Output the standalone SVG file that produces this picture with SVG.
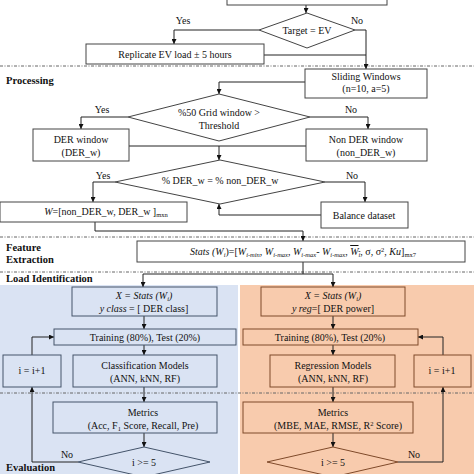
<svg xmlns="http://www.w3.org/2000/svg" width="474" height="474" viewBox="0 0 474 474">
<defs>
<marker id="ah" viewBox="0 0 10 10" refX="10" refY="5" markerWidth="5" markerHeight="5" orient="auto" markerUnits="userSpaceOnUse"><path d="M0,0 L10,5 L0,10 z" fill="#111"/></marker>
<style>
.t{font-family:"Liberation Serif","Times New Roman",serif;font-size:10px;fill:#111;text-anchor:middle}
.i{font-style:italic}
.lb{font-family:"Liberation Serif","Times New Roman",serif;font-size:10.5px;font-weight:bold;fill:#111}
.b{fill:#fff;stroke:#444;stroke-width:1}
.bb{fill:#dae3f3;stroke:#44546a;stroke-width:1}
.ob{fill:#f8cbad;stroke:#7f4a2a;stroke-width:1}
.c{fill:none;stroke:#222;stroke-width:1}
.a{marker-end:url(#ah)}
.sep{stroke:#666;stroke-width:1;stroke-dasharray:3,1.5,1,1.5}
.s{font-size:6.5px}
</style>
</defs>
<rect width="474" height="474" fill="#fff"/>
<rect x="0" y="285" width="238" height="189" fill="#dae3f3"/>
<rect x="240" y="285" width="234" height="189" fill="#f8cbad"/>

<g id="separators">
<line class="sep" x1="0" y1="66" x2="474" y2="66"/>
<line class="sep" x1="0" y1="237" x2="474" y2="237"/>
<line class="sep" x1="0" y1="272" x2="474" y2="272"/>
<line class="sep" x1="0" y1="393" x2="474" y2="393"/>
</g>

<g id="labels">
<text class="lb" x="6" y="84">Processing</text>
<text class="lb" x="6" y="251">Feature</text>
<text class="lb" x="6" y="263">Extraction</text>
<text class="lb" x="6" y="282">Load Identification</text>
<text class="lb" x="6" y="471" font-size="9.5">Evaluation</text>
<text class="t" x="183" y="24">Yes</text>
<text class="t" x="357" y="24">No</text>
<text class="t" x="102" y="113">Yes</text>
<text class="t" x="351" y="113">No</text>
<text class="t" x="103" y="179">Yes</text>
<text class="t" x="352" y="179">No</text>
<text class="t" x="67" y="458">No</text>
<text class="t" x="414" y="458">No</text>
</g>

<g id="connectors">
<path class="c a" d="M306,5 V13"/>
<path class="c a" d="M259,30 H174 V44"/>
<path class="c a" d="M355,30 H366 V69"/>
<path class="c" d="M264,55 H366"/>
<path class="c a" d="M305,82 H219 V94"/>
<path class="c a" d="M128,117 H81 V129"/>
<path class="c a" d="M310,117 H368 V129"/>
<path class="c" d="M129,146 H306"/>
<path class="c a" d="M219,146 V160"/>
<path class="c a" d="M115,182 H93 V202"/>
<path class="c a" d="M325,182 H365 V202"/>
<path class="c a" d="M321,215 H219 V204"/>
<path class="c a" d="M95,222 V231 H303 V241"/>
<path class="c" d="M303,262 V274 M143,274 H333"/>
<path class="c a" d="M143,274 V287"/>
<path class="c a" d="M333,274 V287"/>
<path class="c a" d="M144,316 V329"/>
<path class="c a" d="M144,345 V355"/>
<path class="c a" d="M32,355 V337 H54"/>
<path class="c a" d="M144,387 V402"/>
<path class="c a" d="M144,433 V447"/>
<path class="c a" d="M78,462 H32 V387"/>
<path class="c a" d="M333,316 V329"/>
<path class="c a" d="M333,345 V355"/>
<path class="c a" d="M443,355 V337 H418"/>
<path class="c a" d="M333,387 V402"/>
<path class="c a" d="M333,433 V447"/>
<path class="c a" d="M398,462 H443 V387"/>
</g>

<g id="top-box"><rect class="b" x="227" y="-10" width="160" height="15"/></g>

<g id="target-ev"><polygon class="b" points="307,13 355,30 307,48 259,30"/><text class="t" x="307" y="34">Target = EV</text></g>

<g id="replicate"><rect class="b" x="86" y="44" width="178" height="20"/><text class="t" x="175" y="58">Replicate EV load ± 5 hours</text></g>

<g id="sliding"><rect class="b" x="305" y="69" width="122" height="29"/><text class="t" x="366" y="80">Sliding Windows</text><text class="t" x="366" y="92">(n=10, a=5)</text></g>

<g id="grid-threshold"><polygon class="b" points="219,94 310,117 219,141 128,117"/><text class="t" x="219" y="116">%50 Grid window &gt;</text><text class="t" x="219" y="129">Threshold</text></g>

<g id="der-window"><rect class="b" x="33" y="129" width="96" height="32"/><text class="t" x="81" y="143">DER window</text><text class="t" x="81" y="156">(DER_w)</text></g>

<g id="non-der-window"><rect class="b" x="306" y="129" width="121" height="32"/><text class="t" x="366" y="143">Non DER window</text><text class="t" x="366" y="156">(non_DER_w)</text></g>

<g id="balance-check"><polygon class="b" points="220,160 325,182 220,204 115,182"/><text class="t" x="220" y="184">% DER_w = % non_DER_w</text></g>

<g id="w-matrix"><rect class="b" x="0" y="202" width="187" height="20"/><text class="t" x="106" y="215"><tspan class="i">W</tspan>=[non_DER_w, DER_w ]<tspan class="s" dy="2">mxn</tspan></text></g>

<g id="balance-dataset"><rect class="b" x="321" y="202" width="87" height="26"/><text class="t" x="364" y="219">Balance dataset</text></g>

<g id="stats"><rect class="b" x="137" y="241" width="328" height="21"/>
<text class="t" x="303" y="255" font-size="10.5"><tspan class="i">Stats (W</tspan><tspan class="i s" dy="2">i</tspan><tspan dy="-2">)=[</tspan><tspan class="i">W</tspan><tspan class="i s" dy="2">i-min</tspan><tspan dy="-2">, </tspan><tspan class="i">W</tspan><tspan class="i s" dy="2">i-max</tspan><tspan dy="-2">, </tspan><tspan class="i">W</tspan><tspan class="i s" dy="2">i-max</tspan><tspan dy="-2">- </tspan><tspan class="i">W</tspan><tspan class="i s" dy="2">i-max</tspan><tspan dy="-2">, </tspan><tspan class="i" text-decoration="overline">W</tspan><tspan class="i s" dy="2" text-decoration="overline">i</tspan><tspan dy="-2">, σ, σ</tspan><tspan class="s" dy="-3">2</tspan><tspan dy="3">, </tspan><tspan class="i">Ku</tspan><tspan>]</tspan><tspan class="s" dy="2">mx7</tspan></text></g>

<g id="x-class"><rect class="bb" x="72" y="287" width="145" height="29"/><text class="t i" x="144" y="299">X = Stats (W<tspan class="s" dy="2">i</tspan><tspan dy="-2">)</tspan></text><text class="t" x="144" y="312"><tspan class="i">y class</tspan> = [ DER class]</text></g>

<g id="train-class"><rect class="bb" x="54" y="329" width="182" height="16"/><text class="t" x="145" y="341">Training (80%), Test (20%)</text></g>

<g id="class-models"><rect class="bb" x="73" y="355" width="144" height="32"/><text class="t" x="145" y="369">Classification Models</text><text class="t" x="145" y="382">(ANN, kNN, RF)</text></g>

<g id="inc-left"><rect class="bb" x="3" y="355" width="58" height="32"/><text class="t" x="32" y="374">i = i+1</text></g>

<g id="metrics-class"><rect class="bb" x="53" y="402" width="164" height="31"/><text class="t" x="143" y="416">Metrics</text><text class="t" x="143" y="429">(Acc, F<tspan class="s" dy="2">1</tspan><tspan dy="-2"> Score, Recall, Pre)</tspan></text></g>

<g id="iter-left"><polygon class="bb" points="144,447 210,462 144,477 78,462"/><text class="t" x="144" y="466">i &gt;= 5</text></g>

<g id="x-reg"><rect class="ob" x="261" y="287" width="144" height="29"/><text class="t i" x="333" y="299">X = Stats (W<tspan class="s" dy="2">i</tspan><tspan dy="-2">)</tspan></text><text class="t" x="333" y="312"><tspan class="i">y reg</tspan>=[ DER power]</text></g>

<g id="train-reg"><rect class="ob" x="243" y="329" width="175" height="16"/><text class="t" x="330" y="341">Training (80%), Test (20%)</text></g>

<g id="reg-models"><rect class="ob" x="270" y="355" width="125" height="32"/><text class="t" x="333" y="369">Regression Models</text><text class="t" x="333" y="382">(ANN, kNN, RF)</text></g>

<g id="inc-right"><rect class="ob" x="414" y="355" width="57" height="32"/><text class="t" x="442" y="374">i = i+1</text></g>

<g id="metrics-reg"><rect class="ob" x="243" y="402" width="170" height="31"/><text class="t" x="333" y="416">Metrics</text><text class="t" x="338" y="429">(MBE, MAE, RMSE, R<tspan class="s" dy="-3">2</tspan><tspan dy="3"> Score)</tspan></text></g>

<g id="iter-right"><polygon class="ob" points="333,447 398,462 333,477 267,462"/><text class="t" x="333" y="466">i &gt;= 5</text></g>
</svg>
